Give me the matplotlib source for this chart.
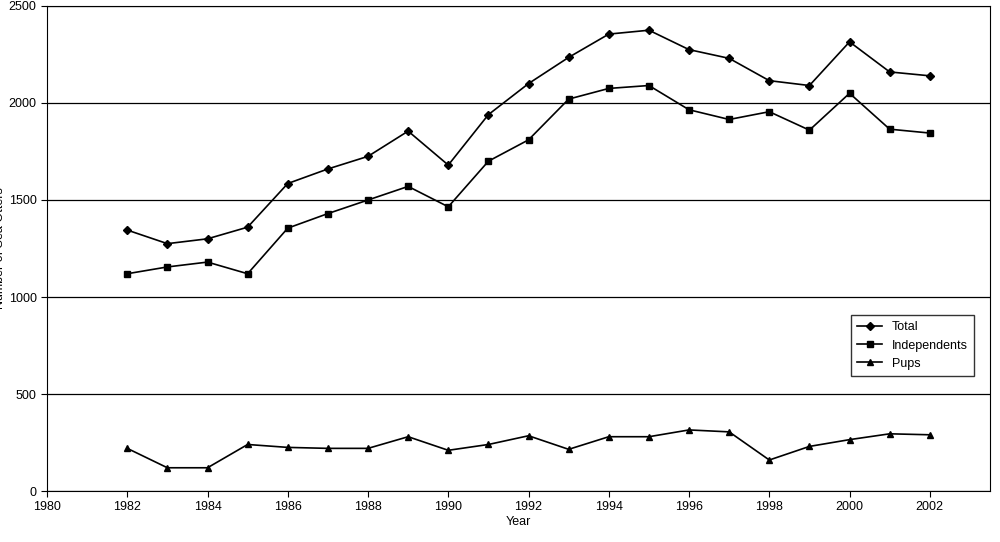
import matplotlib
matplotlib.use("Agg")
import matplotlib.pyplot as plt

plt.rcParams['font.family'] = ['Liberation Sans', 'DejaVu Sans']
years = list(range(1982, 2003))
total = [1345,1275,1300,1360,1585,1660,1725,1855,1680,1940,2100,2235,2355,2375,2275,2230,2115,2090,2315,2160,2140]
independents = [1120,1155,1180,1120,1355,1430,1500,1570,1465,1700,1810,2020,2075,2090,1965,1915,1955,1860,2050,1865,1845]
pups = [220,120,120,240,225,220,220,280,210,240,285,215,280,280,315,305,160,230,265,295,290]

fig = plt.figure(figsize=(10, 5.42), dpi=100)
ax = fig.add_axes([0.047, 0.094, 0.943, 0.895])
ax.plot(years, total, color='black', marker='D', markersize=4, lw=1.2, label='Total')
ax.plot(years, independents, color='black', marker='s', markersize=4.5, lw=1.2, label='Independents')
ax.plot(years, pups, color='black', marker='^', markersize=5, lw=1.2, label='Pups')
ax.set_xlim(1980, 2003.5)
ax.set_ylim(0, 2500)
ax.set_xticks(range(1980, 2003, 2))
ax.set_yticks(range(0, 2501, 500))
ax.yaxis.grid(True, color='black', lw=0.9)
ax.set_axisbelow(True)
ax.tick_params(labelsize=9, direction='out', length=4)
ax.set_xlabel('Year', fontsize=9, labelpad=2)
ax.set_ylabel('Number of Sea Otters', fontsize=9, labelpad=2)
leg = ax.legend(loc='center right', bbox_to_anchor=(0.99, 0.30), fontsize=9, frameon=True,
                fancybox=False, edgecolor='black', borderpad=0.5)
leg.get_frame().set_linewidth(1)
fig.savefig('out.png', dpi=100)
